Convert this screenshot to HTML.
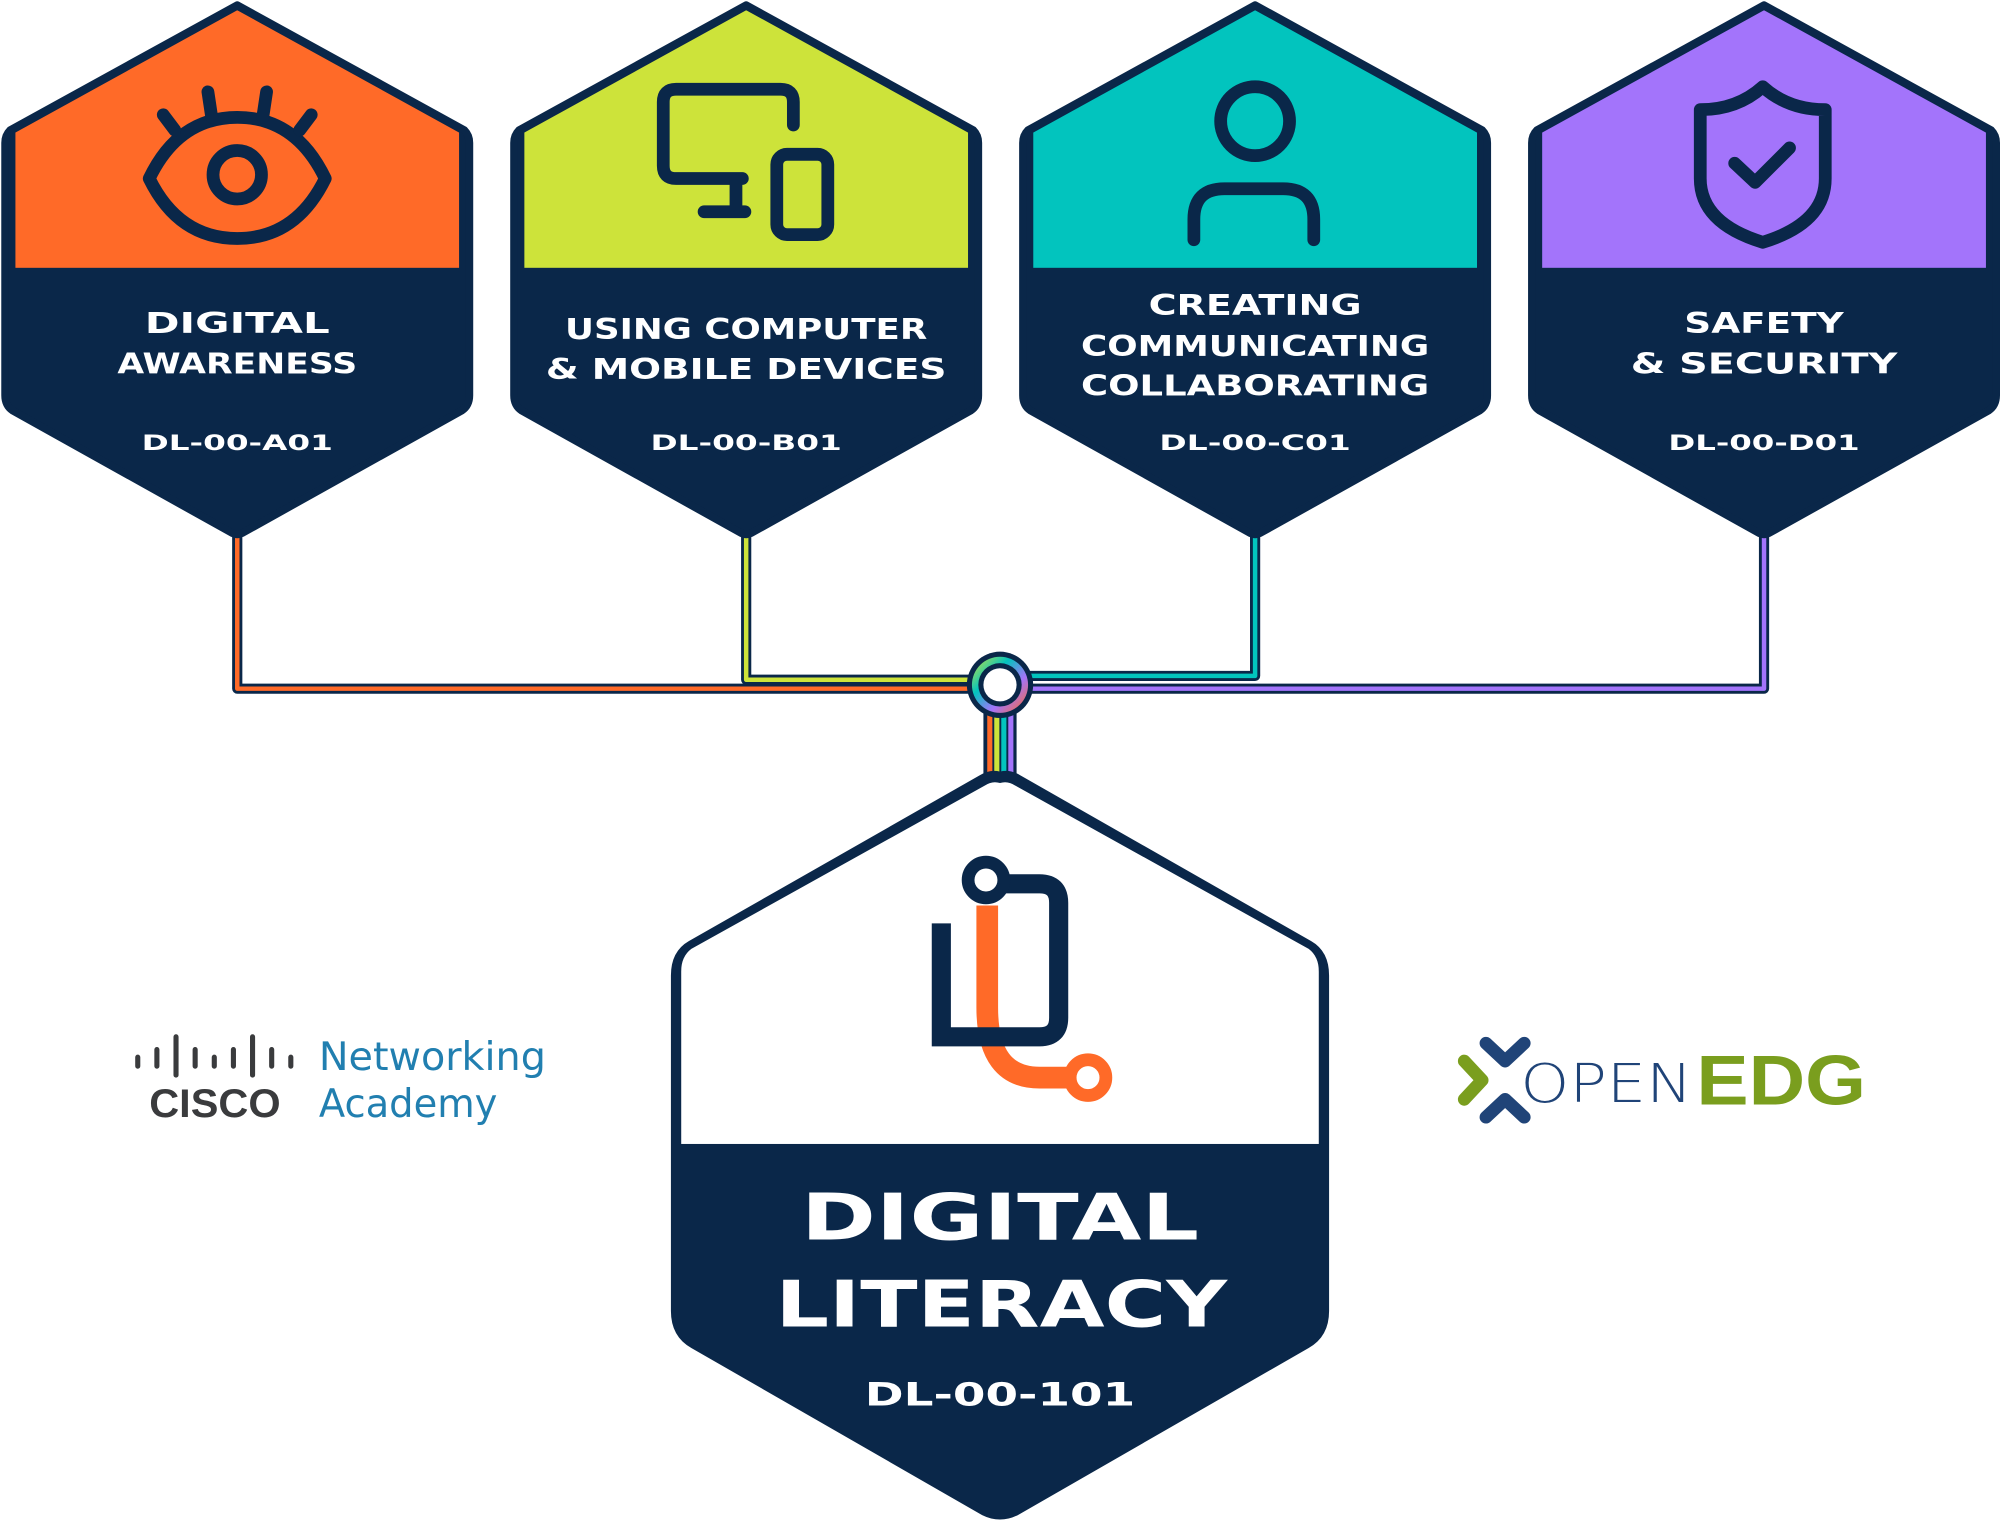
<!DOCTYPE html>
<html><head><meta charset="utf-8"><style>
html,body{margin:0;padding:0;background:#fff;}
svg{display:block;}
.t{font-family:"DejaVu Sans","Liberation Sans",sans-serif;font-weight:bold;fill:#fff;text-anchor:middle;}
</style></head><body>
<svg width="2000" height="1524" viewBox="0 0 1568 1195" preserveAspectRatio="none" xmlns="http://www.w3.org/2000/svg">
<defs>
<clipPath id="h1"><path d="M186,8 L360,104 L360,318 L186,413 L12,318 L12,104 Z"/></clipPath>
<linearGradient id="rg" x1="0" y1="0" x2="1" y2="1">
<stop offset="0" stop-color="#cde33a"/><stop offset="0.35" stop-color="#02c4be"/><stop offset="0.65" stop-color="#a374fb"/><stop offset="1" stop-color="#ff6a28"/></linearGradient>
</defs>
<!-- connectors -->
<g fill="none" stroke-linejoin="round">
<path d="M186,417 V540 H784" stroke="#0a2749" stroke-width="8"/>
<path d="M186,417 V540 H784" stroke="#ff6a28" stroke-width="3.5"/>
<path d="M585,417 V533 H784" stroke="#0a2749" stroke-width="8"/>
<path d="M585,417 V533 H784" stroke="#cde33a" stroke-width="3.5"/>
<path d="M984,417 V530 H784" stroke="#0a2749" stroke-width="8"/>
<path d="M984,417 V530 H784" stroke="#02c4be" stroke-width="3.5"/>
<path d="M1383,417 V540 H784" stroke="#0a2749" stroke-width="8"/>
<path d="M1383,417 V540 H784" stroke="#a374fb" stroke-width="3.5"/>
<rect x="771" y="550" width="26" height="60" fill="#0a2749" stroke="none"/>
<rect x="774" y="550" width="4" height="60" fill="#ff6a28" stroke="none"/>
<rect x="779.5" y="550" width="4" height="60" fill="#cde33a" stroke="none"/>
<rect x="785" y="550" width="4" height="60" fill="#02c4be" stroke="none"/>
<rect x="790.5" y="550" width="4" height="60" fill="#a374fb" stroke="none"/>
</g>
<circle cx="784" cy="537" r="26" fill="#0a2749"/>
<circle cx="784" cy="537" r="22" fill="url(#rg)"/>
<circle cx="784" cy="537" r="17" fill="#0a2749"/>
<circle cx="784" cy="537" r="13" fill="#fff"/>

<!-- small hexes -->
<g id="hexes">
<g transform="translate(0,0)">
<path d="M186,4 L364,102 Q368,106 368,112 L368,310 Q368,318 362,322 L190,418 Q186,420 182,418 L10,322 Q4,318 4,310 L4,112 Q4,106 8,102 Z" fill="#0a2749" stroke="#0a2749" stroke-width="6" stroke-linejoin="round"/>
<rect x="0" y="0" width="372" height="210" fill="#ff6a28" clip-path="url(#h1)"/>
</g>
<g transform="translate(399,0)">
<path d="M186,4 L364,102 Q368,106 368,112 L368,310 Q368,318 362,322 L190,418 Q186,420 182,418 L10,322 Q4,318 4,310 L4,112 Q4,106 8,102 Z" fill="#0a2749" stroke="#0a2749" stroke-width="6" stroke-linejoin="round"/>
<rect x="0" y="0" width="372" height="210" fill="#cde33a" clip-path="url(#h1)"/>
</g>
<g transform="translate(798,0)">
<path d="M186,4 L364,102 Q368,106 368,112 L368,310 Q368,318 362,322 L190,418 Q186,420 182,418 L10,322 Q4,318 4,310 L4,112 Q4,106 8,102 Z" fill="#0a2749" stroke="#0a2749" stroke-width="6" stroke-linejoin="round"/>
<rect x="0" y="0" width="372" height="210" fill="#02c4be" clip-path="url(#h1)"/>
</g>
<g transform="translate(1197,0)">
<path d="M186,4 L364,102 Q368,106 368,112 L368,310 Q368,318 362,322 L190,418 Q186,420 182,418 L10,322 Q4,318 4,310 L4,112 Q4,106 8,102 Z" fill="#0a2749" stroke="#0a2749" stroke-width="6" stroke-linejoin="round"/>
<rect x="0" y="0" width="372" height="210" fill="#a374fb" clip-path="url(#h1)"/>
</g>
</g>

<!-- icons -->
<g fill="none" stroke="#0a2749" stroke-width="10" stroke-linecap="round" stroke-linejoin="round">
<path d="M117,140 Q140,92 186,92 Q232,92 255,140 Q232,187 186,187 Q140,187 117,140 Z"/>
<circle cx="186" cy="137" r="19"/>
<path d="M137,102 L128,90 M166,92 L163,72 M206,92 L209,72 M235,102 L244,90"/>
<path d="M622,98 V80 Q622,70 612,70 H530 Q520,70 520,80 V130 Q520,140 530,140 H582"/>
<path d="M577,142 V164 M552,166 H584"/>
<rect x="609" y="121" width="40" height="63" rx="8"/>
<circle cx="984" cy="95" r="27"/>
<path d="M936,188 V172 Q936,148 960,148 H1006 Q1030,148 1030,172 V188"/>
<path d="M1382,68 Q1362,86 1333,86 V140 Q1333,175 1382,190 Q1431,175 1431,140 V86 Q1402,86 1382,68 Z"/>
<path d="M1360,128 L1376,143 L1403,116"/>
</g>

<!-- small hex text -->
<g class="t" font-size="22">
<text x="186" y="261" class="t" textLength="145" lengthAdjust="spacingAndGlyphs">DIGITAL</text>
<text x="186" y="293" class="t" textLength="188" lengthAdjust="spacingAndGlyphs">AWARENESS</text>
<text x="585" y="266" class="t" textLength="284" lengthAdjust="spacingAndGlyphs">USING COMPUTER</text>
<text x="585" y="297" class="t" textLength="314" lengthAdjust="spacingAndGlyphs">&amp; MOBILE DEVICES</text>
<text x="984" y="247" class="t" textLength="167" lengthAdjust="spacingAndGlyphs">CREATING</text>
<text x="984" y="279" class="t" textLength="273" lengthAdjust="spacingAndGlyphs">COMMUNICATING</text>
<text x="984" y="310" class="t" textLength="273" lengthAdjust="spacingAndGlyphs">COLLABORATING</text>
<text x="1383" y="261" class="t" textLength="125" lengthAdjust="spacingAndGlyphs">SAFETY</text>
<text x="1383" y="293" class="t" textLength="209" lengthAdjust="spacingAndGlyphs">&amp;  SECURITY</text>
</g>
<g class="t" font-size="17">
<text x="186" y="353" class="t" textLength="150" lengthAdjust="spacingAndGlyphs">DL-00-A01</text>
<text x="585" y="353" class="t" textLength="150" lengthAdjust="spacingAndGlyphs">DL-00-B01</text>
<text x="984" y="353" class="t" textLength="150" lengthAdjust="spacingAndGlyphs">DL-00-C01</text>
<text x="1383" y="353" class="t" textLength="150" lengthAdjust="spacingAndGlyphs">DL-00-D01</text>
</g>

<!-- big hex -->
<clipPath id="hb"><path d="M784,614 Q790,612 796,616 L1026,744 Q1034,750 1034,762 L1034,1045 L784,1186 L534,1045 L534,762 Q534,750 542,744 L772,616 Q778,612 784,614 Z"/></clipPath>
<path d="M784,605 Q776,603 768,608 L540,738 Q526,746 526,765 L526,1028 Q526,1048 542,1057 L770,1188 Q784,1195 798,1188 L1026,1057 Q1042,1048 1042,1028 L1042,765 Q1042,746 1028,738 L800,608 Q792,603 784,605 Z" fill="#0a2749"/>
<rect x="520" y="600" width="530" height="297" fill="#fff" clip-path="url(#hb)"/>
<!-- logo -->
<g fill="none" stroke-linecap="butt">
<path d="M774,710 V790 Q774,845 815,845 H842" stroke="#ff6a28" stroke-width="17"/>
<circle cx="853" cy="845" r="14" stroke="#ff6a28" stroke-width="10" fill="#fff"/>
<path d="M738,724 V813 H815 Q830,813 830,798 V708 Q830,693 815,693 H786" stroke="#0a2749" stroke-width="15"/>
<circle cx="773" cy="690" r="14" stroke="#0a2749" stroke-width="10" fill="#fff"/>
</g>
<text x="784" y="972" class="t" font-size="50" textLength="312" lengthAdjust="spacingAndGlyphs">DIGITAL</text>
<text x="785" y="1040" class="t" font-size="50" textLength="354" lengthAdjust="spacingAndGlyphs">LITERACY</text>
<text x="784" y="1102" class="t" font-size="25" textLength="212" lengthAdjust="spacingAndGlyphs">DL-00-101</text>

<!-- cisco -->
<g stroke="#3a3b3d" stroke-width="4" stroke-linecap="round">
<path d="M108,829 V836 M123,823 V836 M138,813 V843 M153,823 V836 M168,829 V836 M183,823 V836 M198,813 V843 M213,823 V836 M228,829 V836"/>
</g>
<text x="117" y="876" font-family="Liberation Sans,sans-serif" font-weight="bold" font-size="31" fill="#3a3b3d" textLength="103" lengthAdjust="spacingAndGlyphs">CISCO</text>
<text x="250" y="839" font-family="DejaVu Sans,Liberation Sans,sans-serif" font-size="31" fill="#217fb0" textLength="178" lengthAdjust="spacingAndGlyphs">Networking</text>
<text x="250" y="876" font-family="DejaVu Sans,Liberation Sans,sans-serif" font-size="31" fill="#217fb0" textLength="140" lengthAdjust="spacingAndGlyphs">Academy</text>

<!-- openEDG -->
<g fill="none" stroke-width="10" stroke-linecap="round" stroke-linejoin="round">
<path d="M1165,818 L1180,832 L1195,818" stroke="#204478"/>
<path d="M1165,876 L1180,862 L1195,876" stroke="#204478"/>
<path d="M1148,832 L1162,847 L1148,862" stroke="#7a9e1e"/>
</g>
<text x="1192" y="864" font-family="DejaVu Sans,Liberation Sans,sans-serif" font-size="42" fill="#204478" textLength="135" lengthAdjust="spacingAndGlyphs" style="font-weight:200">OPEN</text>
<text x="1330" y="866" font-family="Liberation Sans,sans-serif" font-weight="bold" font-size="55" fill="#7a9e1e" textLength="133" lengthAdjust="spacingAndGlyphs">EDG</text>
</svg>
</body></html>
